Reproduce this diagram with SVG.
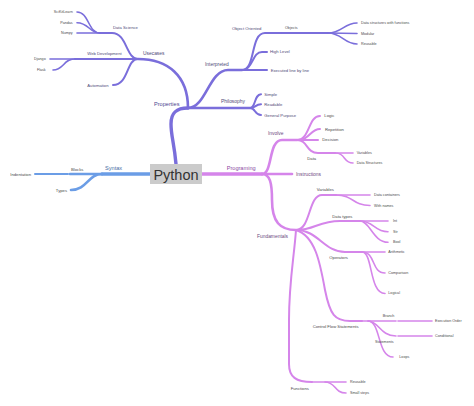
<svg xmlns="http://www.w3.org/2000/svg" width="474" height="406" viewBox="0 0 474 406">
<style>
text{font-family:"Liberation Sans",Arial,sans-serif;dominant-baseline:central;fill:#4a4a4a}
.l1{font-size:5.6px}
.l2{font-size:4.9px}
.l3{font-size:4.2px}
.l4{font-size:3.7px}
.e{text-anchor:end}
.tp{fill:#4e4690}
.tb{fill:#466ba3}
.tk{fill:#8c4aa2}
.tp2{fill:#4f4a78}
.tk2{fill:#6e4a80}
.c path{fill:none;stroke-linecap:round}
.p{stroke:#7a6edb}
.b{stroke:#6b9de6}
.k{stroke:#d585ea}
.w1{stroke-width:3.4}
.w2{stroke-width:2.6}
.w3{stroke-width:2}
.w4{stroke-width:1.6}
</style>
<rect width="474" height="406" fill="#ffffff"/>
<g id="connectors" class="c">
<!-- Properties branch -->
<path class="p w1" d="M176,164 C174,142 171,136 171,124 C171,113 176,108 188,108"/>
<path class="p w2" d="M188,108 C188,76 168,59 138,59"/>
<path class="p w3" d="M138,59 C126,59 127,33 112,33 L100,33"/>
<path class="p w4" d="M100,33 C88,33 89,12 77,12"/>
<path class="p w4" d="M100,33 C89,33 89,22.7 77,22.7"/>
<path class="p w4" d="M100,33 L77,33"/>
<path class="p w3" d="M138,59 L75,59"/>
<path class="p w4" d="M75,59 L50,59"/>
<path class="p w4" d="M75,59 C63,59 64,70 53,70"/>
<path class="p w3" d="M138,59 C126,59 129,85 113,85"/>
<path class="p w2" d="M188,108 C206,108 209,70 228,70 L242,70"/>
<path class="p w3" d="M242,70 C256,70 250,33 265,33 L282,33"/>
<path class="p w3" d="M282,33 L328,33"/>
<path class="p w4" d="M328,33 C342,33 344,23 357,23"/>
<path class="p w4" d="M328,33 L357,33.5"/>
<path class="p w4" d="M328,33 C342,33 344,44 357,44"/>
<path class="p w3" d="M242,70 C253,70 252,52 262,52 L267,52"/>
<path class="p w3" d="M242,70 L267,70"/>
<path class="p w2" d="M188,108 L250,108"/>
<path class="p w3" d="M250,108 C256,108 254,94.3 261,94.3"/>
<path class="p w3" d="M250,108 C256,108 255,104.3 261,104.3"/>
<path class="p w3" d="M250,108 C256,108 254,115 261,115"/>
<!-- Syntax branch -->
<path class="b w1" d="M150,174 L102,174"/>
<path class="b w2" d="M102,174 L70,174"/>
<path class="b w3" d="M68,174 L35,174"/>
<path class="b w2" d="M102,174 C88,174 87,190 71,190"/>
<!-- Programing branch -->
<path class="k w1" d="M202,174 L262,174"/>
<path class="k w2" d="M262,174 C273,174 268,140 282,140 L297,140"/>
<path class="k w3" d="M297,140 C310,140 308,116 320,116"/>
<path class="k w3" d="M297,140 C310,140 310,129 320,129"/>
<path class="k w3" d="M297,140 L318,140"/>
<path class="k w3" d="M297,140 C308,140 306,153 318,153 L335,153"/>
<path class="k w4" d="M335,153 L353,153"/>
<path class="k w4" d="M335,153 C346,153 343,163 353,163"/>
<path class="k w2" d="M262,174 L292,174"/>
<path class="k w2" d="M262,174 C270,174 272,183 272,200 C272,222 280,230 296,230"/>
<path class="k w3" d="M296,230 C311,230 308,195 322,195 L336,195"/>
<path class="k w4" d="M336,195 L370,195"/>
<path class="k w4" d="M336,195 C354,195 352,205.5 370,205.5"/>
<path class="k w3" d="M296,230 C315,230 318,221 340,221 L360,221"/>
<path class="k w4" d="M360,221 L388,221"/>
<path class="k w4" d="M360,221 C374,221 374,231.7 388,231.7"/>
<path class="k w4" d="M360,221 C370,221 373,242.3 388,242.3"/>
<path class="k w3" d="M296,230 C318,230 324,252 345,252 L362,252"/>
<path class="k w4" d="M362,252 L385,252"/>
<path class="k w4" d="M362,252 C376,252 371,273 385,273"/>
<path class="k w4" d="M362,252 C373,252 369,293.5 385,293.5"/>
<path class="k w3" d="M296,230 C315,236 320,262 325,290 C330,315 335,321 350,321 L362,321"/>
<path class="k w4" d="M362,321 L396,321"/>
<path class="k w4" d="M398,321 L432,321"/>
<path class="k w4" d="M368,321 C379,321 380,336 396,336"/>
<path class="k w4" d="M398,336 L432,336"/>
<path class="k w4" d="M368,321 C381,321 377,357 393,357"/>
<path class="k w3" d="M296,230 C294,258 289,282 289,320 L289,364 C289,377 296,382 312,382"/>
<path class="k w4" d="M312,382 L346,382"/>
<path class="k w4" d="M325,382 C336,382 334,393 346,393"/>
</g>
<g id="python"><rect x="150" y="164" width="52" height="20" fill="#cbcbcb"/><text x="176" y="174.5" text-anchor="middle" style="font-size:14.5px;fill:#333">Python</text></g>
<g id="properties"><text class="l1 tp" x="154" y="104">Properties</text></g>
<g id="usecases"><text class="l2 tp2" x="143" y="53">Usecases</text></g>
<g id="data-science"><text class="l3 tp2" x="113" y="27">Data Science</text></g>
<g id="scikitlearn"><text class="l4 e" x="72.7" y="12">SciKitLearn</text></g>
<g id="pandas"><text class="l4 e" x="72.7" y="22.7">Pandas</text></g>
<g id="numpy"><text class="l4 e" x="72.7" y="33">Numpy</text></g>
<g id="web-development"><text class="l3 tp2" x="87.3" y="53.3">Web Development</text></g>
<g id="django"><text class="l4 e" x="45.7" y="59.3">Django</text></g>
<g id="flask"><text class="l4 e" x="45.7" y="69.5">Flask</text></g>
<g id="automation"><text class="l3 tp2" x="87.3" y="85">Automation</text></g>
<g id="interpreted"><text class="l2 tp2" x="205" y="64">Interpreted</text></g>
<g id="object-oriented"><text class="l3 tp2" x="232" y="28.3">Object Oriented</text></g>
<g id="objects"><text class="l4" x="285" y="28.3">Objects</text></g>
<g id="data-structures-with-functions"><text class="l4" x="361" y="23.3">Data structures with functions</text></g>
<g id="modular"><text class="l4" x="361" y="33.7">Modular</text></g>
<g id="reusable-objects"><text class="l4" x="361" y="44">Reusable</text></g>
<g id="high-level"><text class="l3 tp2" x="270" y="51.7">High Level</text></g>
<g id="executed-line-by-line"><text class="l3 tp2" x="270.7" y="70">Executed line by line</text></g>
<g id="philosophy"><text class="l2 tp2" x="221" y="101.7">Philosophy</text></g>
<g id="simple"><text class="l3 tp2" x="264.3" y="94.3">Simple</text></g>
<g id="readable"><text class="l3 tp2" x="264.3" y="104.3">Readable</text></g>
<g id="general-purpose"><text class="l3 tp2" x="264.3" y="115">General Purpose</text></g>
<g id="syntax"><text class="l1 tb" x="105" y="168">Syntax</text></g>
<g id="blocks"><text class="l3" x="71" y="169">Blocks</text></g>
<g id="indentation"><text class="l3 e" x="31" y="174">Indentation</text></g>
<g id="types"><text class="l3 e" x="67" y="190">Types</text></g>
<g id="programing"><text class="l1 tk" x="226.7" y="168">Programing</text></g>
<g id="involve"><text class="l2 tk2" x="268" y="133">Involve</text></g>
<g id="logic"><text class="l3" x="324.3" y="115">Logic</text></g>
<g id="repetition"><text class="l3" x="325" y="129">Repetition</text></g>
<g id="decision"><text class="l3" x="322.3" y="139.3">Decision</text></g>
<g id="data"><text class="l3" x="307.3" y="158.3">Data</text></g>
<g id="variables-data"><text class="l4" x="356.7" y="153">Variables</text></g>
<g id="data-structures"><text class="l4" x="356.7" y="163.3">Data Structures</text></g>
<g id="instructions"><text class="l2 tk2" x="296" y="174">Instructions</text></g>
<g id="fundamentals"><text class="l2 tk2" x="257" y="236">Fundamentals</text></g>
<g id="variables"><text class="l3" x="316.7" y="189.3">Variables</text></g>
<g id="data-containers"><text class="l4" x="374" y="195">Data containers</text></g>
<g id="with-names"><text class="l4" x="374" y="205.6">With names</text></g>
<g id="data-types"><text class="l3" x="332.3" y="216">Data types</text></g>
<g id="int"><text class="l4" x="393" y="221">Int</text></g>
<g id="str"><text class="l4" x="393" y="231.7">Str</text></g>
<g id="bool"><text class="l4" x="393" y="242.3">Bool</text></g>
<g id="operators"><text class="l3" x="329.3" y="257.3">Operators</text></g>
<g id="arithmetic"><text class="l4" x="388.3" y="251.7">Arithmetic</text></g>
<g id="comparison"><text class="l4" x="388.3" y="272.7">Comparison</text></g>
<g id="logical"><text class="l4" x="388.3" y="293.3">Logical</text></g>
<g id="control-flow-statements"><text class="l3" x="312.7" y="326">Control Flow Statements</text></g>
<g id="branch"><text class="l4" x="382.7" y="315.7">Branch</text></g>
<g id="execution-order"><text class="l4" x="435" y="320.7">Execution Order</text></g>
<g id="statements"><text class="l4" x="375" y="342.3">Statements</text></g>
<g id="conditional"><text class="l4" x="435" y="336">Conditional</text></g>
<g id="loops"><text class="l4" x="399.3" y="357.3">Loops</text></g>
<g id="functions"><text class="l3" x="290.7" y="388.3">Functions</text></g>
<g id="reusable"><text class="l4" x="350" y="382.3">Reusable</text></g>
<g id="small-steps"><text class="l4" x="350" y="393">Small steps</text></g>
</svg>
